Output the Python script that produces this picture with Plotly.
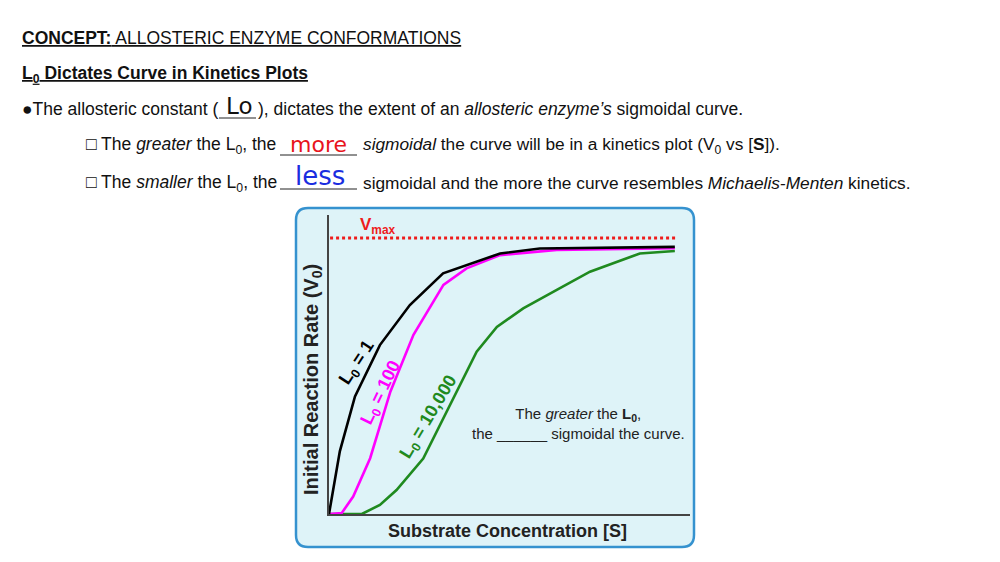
import plotly.graph_objects as go

W, H = 1000, 562

# ---------------- data ----------------
s_L1 = [0, 0.30, 0.72, 1.41, 2.24, 3.16, 4.74, 5.84, 9.58]
v_L1 = [0, 0.227, 0.426, 0.612, 0.757, 0.872, 0.944, 0.962, 0.968]

s_L100 = [0, 0.35, 0.67, 1.14, 1.70, 2.34, 3.17, 3.81, 4.74, 6.31, 9.58]
v_L100 = [0, 0.003, 0.063, 0.202, 0.443, 0.649, 0.830, 0.890, 0.938, 0.957, 0.963]

s_L10000 = [0, 0.91, 1.41, 1.87, 2.61, 3.54, 4.09, 4.65, 5.38, 6.31, 7.23, 8.61, 9.58]
v_L10000 = [0, 0, 0.033, 0.087, 0.201, 0.443, 0.588, 0.678, 0.745, 0.812, 0.878, 0.944, 0.953]

vmax_x = [0.03, 9.65]
vmax_y = [1.0, 1.0]

curve_labels = ["L<sub>0</sub> = 1", "L<sub>0</sub> = 100", "L<sub>0</sub> = 10,000"]
curve_colors = ["#000000", "#ff00ff", "#1f8a1f"]

x_title = "Substrate Concentration [S]"
y_title = "Initial Reaction Rate (V<sub>0</sub>)"


def px(x):
    return x / W


def py(y):
    return 1 - y / H


NARROW = "Liberation Sans Narrow, Arial Narrow, Liberation Sans, Arial, sans-serif"
ARIAL = "Liberation Sans, Arial, sans-serif"
HAND = "DejaVu Sans, sans-serif"

fig = go.Figure()

fig.add_trace(go.Scatter(x=vmax_x, y=vmax_y, mode="lines",
                         line=dict(color="#ee1c1c", width=3, dash="dot"),
                         hoverinfo="skip", showlegend=False))
for xs, ys, c in [(s_L10000, v_L10000, curve_colors[2]),
                  (s_L100, v_L100, curve_colors[1]),
                  (s_L1, v_L1, curve_colors[0])]:
    fig.add_trace(go.Scatter(x=xs, y=ys, mode="lines",
                             line=dict(color=c, width=2.6),
                             hoverinfo="skip", showlegend=False))

# rounded box
x0, x1, y0, y1, r = px(296), px(694), py(547), py(208), 12
rx, ry = r / W, r / H
path = (f"M {x0+rx},{y1} L {x1-rx},{y1} Q {x1},{y1} {x1},{y1-ry} "
        f"L {x1},{y0+ry} Q {x1},{y0} {x1-rx},{y0} L {x0+rx},{y0} "
        f"Q {x0},{y0} {x0},{y0+ry} L {x0},{y1-ry} Q {x0},{y1} {x0+rx},{y1} Z")
shapes = [dict(type="path", path=path, xref="paper", yref="paper",
               fillcolor="#def3f8", line=dict(color="#3592cf", width=2.5),
               layer="below")]
# blanks
for (a, b, yy, col) in [(219, 256, 118, "#222"), (280, 357, 155, "#222"), (280, 357, 189, "#222")]:
    shapes.append(dict(type="line", xref="paper", yref="paper",
                       x0=px(a), x1=px(b), y0=py(yy), y1=py(yy),
                       line=dict(color=col, width=1)))

ann = []


def txt(t, x, y, size, color="#111", font=NARROW, xanchor="left", angle=0, align="left"):
    ann.append(dict(text=t, x=px(x), y=py(y), xref="paper", yref="paper",
                    xanchor=xanchor, yanchor="middle", showarrow=False,
                    textangle=angle, align=align,
                    font=dict(size=size, color=color, family=font)))


txt("<u><b>CONCEPT:</b> ALLOSTERIC ENZYME CONFORMATIONS</u>", 20, 38, 17.5)
txt("<u><b>L<sub>0</sub> Dictates Curve in Kinetics Plots</b></u>", 20, 74, 17.5)
txt("●The allosteric constant (", 20, 109, 17.5)
txt("Lo", 239, 106, 23, color="#111", font=HAND, xanchor="center")
txt("), dictates the extent of an <i>allosteric enzyme’s</i> sigmoidal curve.", 256, 109, 17.5)
txt("□ The <i>greater</i> the L<sub>0</sub>, the", 84, 146, 17.5)
txt("more", 318, 144, 22, color="#e8141c", font=HAND, xanchor="center")
txt("<i>sigmoidal</i> the curve will be in a kinetics plot (V<sub>0</sub> vs [<b>S</b>]).", 361, 146, 17.3)
txt("□ The <i>smaller</i> the L<sub>0</sub>, the", 84, 183, 17.5)
txt("less", 320, 176, 26, color="#1a2de0", font=HAND, xanchor="center")
txt("sigmoidal and the more the curve resembles <i>Michaelis-Menten</i> kinetics.", 361, 183, 17.3)

# inside chart
txt("<b>V<sub>max</sub></b>", 378, 226, 17, color="#ee1c1c", font=ARIAL, xanchor="center")
txt("The <i>greater</i> the <b>L<sub>0</sub></b>,<br>the ______ sigmoidal the curve.",
    578, 423, 15, color="#222", font=ARIAL, xanchor="center", align="center")
txt("<b>" + curve_labels[0] + "</b>", 357, 363, 18, color=curve_colors[0], font=ARIAL, xanchor="center", angle=-57)
txt("<b>" + curve_labels[1] + "</b>", 381, 393, 18, color=curve_colors[1], font=ARIAL, xanchor="center", angle=-64)
txt("<b>" + curve_labels[2] + "</b>", 429, 417, 18, color=curve_colors[2], font=ARIAL, xanchor="center", angle=-59)
txt("<b>" + y_title + "</b>", 312, 380, 20, color="#222", font=ARIAL, xanchor="center", angle=-90)
txt("<b>" + x_title + "</b>", 507, 531, 18, color="#222", font=ARIAL, xanchor="center")

fig.update_layout(
    width=W, height=H, margin=dict(l=0, r=0, t=0, b=0),
    paper_bgcolor="white", plot_bgcolor="rgba(0,0,0,0)",
    shapes=shapes, annotations=ann, showlegend=False,
    xaxis=dict(domain=[px(329), px(690)], range=[0, 10], showgrid=False, zeroline=False,
               showticklabels=False, ticks="", showline=True, linecolor="#444", linewidth=1.6),
    yaxis=dict(domain=[py(514), py(215)], range=[0, (514 - 215) / 276], showgrid=False,
               zeroline=False, showticklabels=False, ticks="", showline=True,
               linecolor="#444", linewidth=1.6),
)

fig.write_html("out.html", config={"displayModeBar": False},
               post_script="document.body.style.margin='0';")
